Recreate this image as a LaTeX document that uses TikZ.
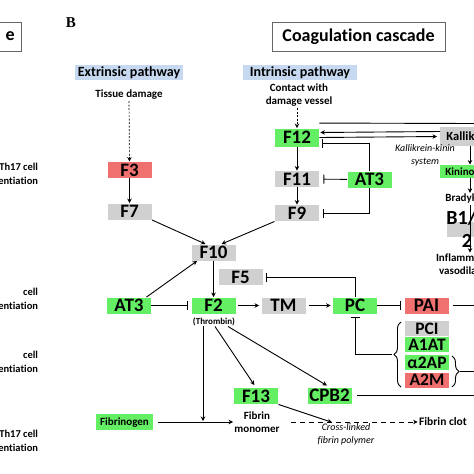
\documentclass[tikz,border=0pt]{standalone}
\usepackage{fontspec}
\setmainfont{Carlito}[Ligatures={NoCommon}]
\newfontfamily\serifB{Liberation Serif}
\usetikzlibrary{arrows.meta, decorations.pathreplacing}

\definecolor{grn}{RGB}{100,238,100}
\definecolor{rd}{RGB}{240,112,112}
\definecolor{gry}{RGB}{208,208,208}
\definecolor{blu}{RGB}{198,217,240}

\tikzstyle{fac} = [minimum width=44pt, minimum height=16pt, inner sep=0pt, text depth=0pt, font=\fontsize{19}{20}\selectfont\bfseries]
\tikzstyle{gbox} = [fac, fill=grn]
\tikzstyle{rbox} = [fac, fill=rd]
\tikzstyle{kbox} = [fac, fill=gry]
\tikzstyle{ttl} = [draw=black!60, line width=0.8pt, minimum height=29pt, inner xsep=7pt, font=\fontsize{18}{18}\selectfont\bfseries]
\tikzstyle{way} = [fill=blu, minimum height=15pt, inner xsep=3pt, inner ysep=0pt, font=\fontsize{14}{14}\selectfont\bfseries]
\tikzstyle{note} = [align=center, inner sep=1pt, font=\fontsize{11}{13}\selectfont\bfseries]
\tikzstyle{ital} = [align=center, inner sep=1pt, font=\fontsize{10}{13}\selectfont\itshape]
\tikzstyle{side} = [anchor=east, align=right, inner sep=0pt, font=\fontsize{10.5}{14}\selectfont\bfseries]
\tikzstyle{big} = [inner sep=0pt, font=\fontsize{20}{20}\selectfont\bfseries]
\tikzstyle{stack} = [minimum height=15pt, font=\fontsize{17.5}{18}\selectfont\bfseries]
\tikzstyle{act} = [-{Stealth[length=4.5pt,width=4.5pt]}]
\tikzstyle{inh} = [-{Bar[width=9pt]}]
\tikzstyle{dsh} = [act, line width=0.7pt, dash pattern=on 2pt off 1.5pt]
\tikzstyle{dshb} = [act, dash pattern=on 5pt off 4pt]

\begin{document}
\begin{tikzpicture}[x=1pt, y=-1pt, line width=0.9pt]
\useasboundingbox (0,0) rectangle (474,474);

% panel A, cut off at the left
\node[ttl, anchor=east] (boxA) at (22,36.5) {e};
\node[side] (sa1) at (38.5,174) {Th17 cell\\entiation};
\node[side] (sa2) at (38.5,298.5) {cell\\entiation};
\node[side] (sa3) at (38.5,361.5) {cell\\entiation};
\node[side] (sa4) at (38.5,440.5) {Th17 cell\\entiation};

% panel B
\node[inner sep=0pt, font=\serifB\bfseries\fontsize{15}{15}\selectfont] (lblB) at (71,23) {B};
\node[ttl, minimum width=173pt] (ttlB) at (358.5,36.5) {Coagulation cascade};
\node[way, minimum width=105pt] (ext) at (129,72.5) {Extrinsic pathway};
\node[way, minimum width=114pt] (intr) at (300,72.5) {Intrinsic pathway};
\node[note] (tis) at (129,95) {Tissue damage};
\node[note] (cont) at (299,95.5) {Contact with\\damage vessel};

% extrinsic and intrinsic factors
\node[rbox] (F3) at (129.5,170) {F3};
\node[kbox] (F7) at (129.5,211.5) {F7};
\node[gbox, minimum height=18pt] (F12) at (297,137.5) {F12};
\node[kbox] (F11) at (297,179) {F11};
\node[kbox] (F9) at (297,213) {F9};
\node[gbox] (AT3a) at (369.5,179.5) {AT3};

% kallikrein-kinin system
\node[kbox, anchor=west, minimum width=0pt, minimum height=19pt, inner xsep=6pt, font=\fontsize{12.5}{13}\selectfont\bfseries] (kal) at (440,136.5) {Kallikrein};
\node[ital] (kks) at (425,155) {Kallikrein-kinin\\system};
\node[gbox, anchor=west, minimum width=0pt, minimum height=13pt, inner xsep=5pt, font=\fontsize{11}{12}\selectfont\bfseries] (kin) at (440,171.5) {Kininogen};
\node[note, anchor=west] (bra) at (444,199) {Bradykinin};
\node[kbox, anchor=west, minimum width=40pt, minimum height=15pt] (rec) at (447,229.5) {};
\node[big, anchor=west] (b1) at (446,218) {B1/};
\node[big] (b2) at (467,241) {2};
\node[note] (infl) at (467,264.5) {Inflammation\\vasodilation};

% common pathway
\node[kbox] (F10) at (213.5,252.5) {F10};
\node[kbox] (F5) at (240.5,277) {F5};
\node[gbox] (AT3b) at (129,305.5) {AT3};
\node[gbox] (F2) at (213.5,305.5) {F2};
\node[inner sep=0pt, font=\fontsize{9}{10}\selectfont\bfseries] (thr) at (214,322) {(Thrombin)};
\node[kbox] (TM) at (283.5,305.5) {TM};
\node[gbox] (PC) at (355,305.5) {PC};
\node[rbox] (PAI) at (426.5,305.5) {PAI};

% inhibitors of protein C
\node[kbox, stack] (PCI) at (427,328.5) {PCI};
\node[gbox, stack] (A1AT) at (427,344.5) {A1AT};
\node[gbox, stack] (a2AP) at (427,362.5) {α2AP};
\node[rbox, stack] (A2M) at (427,380) {A2M};

% fibrin
\node[gbox, minimum width=57pt, font=\fontsize{11}{12}\selectfont\bfseries] (fgn) at (124.5,422) {Fibrinogen};
\node[gbox] (F13) at (256,396) {F13};
\node[gbox] (CPB2) at (329.5,395.5) {CPB2};
\node[note] (mono) at (257,422) {Fibrin\\monomer};
\node[note, font=\fontsize{11.5}{13}\selectfont\bfseries] (clot) at (443,422) {Fibrin clot};
\node[ital] (xl) at (346,434.5) {Cross-linked\\fibrin polymer};

\coordinate (top) at (474,123.5);
\coordinate (out1) at (474,305.5);
\coordinate (lbt) at (392,354.5);
\coordinate (rbt) at (460,371.5);
\coordinate (out2) at (474,371.5);
\coordinate (out3) at (474,395.5);

% connectors
\draw[dsh] (tis) -- (F3);
\draw[dsh] (F12 |- cont.south) -- (F12.north);
\draw[act] (F3) -- (F7);
\draw[act] (F7.south east) -- ([xshift=-8pt]F10.north);
\draw[act] (F9.south west) -- ([xshift=8pt]F10.north);
\draw[act] (F12) -- (F11);
\draw[act] (F11) -- (F9);
\draw[inh, shorten >=4pt] (AT3a) -- (F11);
\draw[inh, shorten >=3pt] (AT3a) |- ([yshift=-5.5pt]F12.east);
\draw[inh, shorten >=4pt] (AT3a) |- (F9);
\draw ([yshift=5pt]F12.north east) -- (top);
\draw[act, shorten >=1pt] ([yshift=5pt]kal.west) -- ([yshift=5pt]F12.east);
\draw[act, shorten >=3pt] (F12.east) -- (kal.west);
\draw[act] ([xshift=30pt]kal.south west) -- ([xshift=30pt]kin.north west);
\draw[act] ([xshift=30pt]kin.south west) -- ([xshift=26pt]bra.north west);
\draw[act] ([xshift=26pt]bra.south west) -- ([xshift=3pt]infl.north);

\draw[act] (F10) -- (F2);
\draw[act, shorten <=2pt, shorten >=2pt] (F2) -- (TM);
\draw[act, shorten <=3pt, shorten >=2pt] (TM) -- (PC);
\draw[inh, shorten >=3pt] (PC) |- (F5);
\draw[inh, shorten >=3pt] (PC) -- (PAI);
\draw[shorten <=4pt] (PAI.east) -- (out1);
\draw[inh, shorten >=3pt] (AT3b) -- (F2);
\draw[act] ([xshift=-5pt]AT3b.north east) -- ([xshift=6pt]F10.south west);

\draw[decorate, decoration={brace, amplitude=7pt}] (401,387) -- (401,322);
\draw[inh, shorten >=3pt] (lbt) -| (PC);
\draw[decorate, decoration={brace, amplitude=7pt}] (452,356) -- (452,387);
\draw (rbt) -- (out2);
\draw[shorten <=5pt] (CPB2) -- (out3);

\draw[act, shorten <=5pt] (fgn) -- (mono.west);
\draw[act, shorten >=1pt] ([xshift=-11pt]thr.south) -- ([xshift=-11pt]thr.south |- fgn.east);
\draw[act, shorten >=3pt] ([xshift=1pt]thr.south) -- (F13.north);
\draw[act, shorten >=3pt] ([xshift=14pt]thr.south) -- (CPB2.north);
\draw[act] (F13.south east) -- ([xshift=-14pt]xl.north);
\draw[dshb, shorten <=10pt] (mono) -- (clot);
\end{tikzpicture}
\end{document}
